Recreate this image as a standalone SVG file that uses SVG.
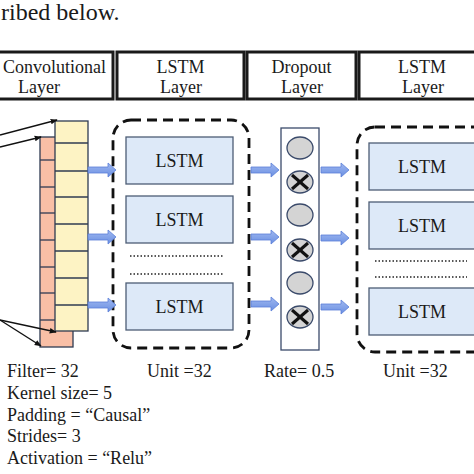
<svg xmlns="http://www.w3.org/2000/svg" width="474" height="474" viewBox="0 0 474 474">
<style>
text{font-family:"Liberation Serif","Times New Roman",serif;fill:#1a1a1a}
.hdr{fill:#fff;stroke:#1a1a1a;stroke-width:3}
.t17{font-size:18px}
.mid{text-anchor:middle}
.cell{stroke:#2f3b52;stroke-width:1.3}
.lstm{fill:#dde9f8;stroke:#4d5d75;stroke-width:1.3}
.dash{fill:none;stroke:#111;stroke-width:2.8;stroke-dasharray:10 6}
.dots{stroke:#222;stroke-width:1.3;stroke-dasharray:1.5 2}
.circ{fill:#d4d4d4;stroke:#3a4a6a;stroke-width:1.3}
.x{stroke:#111;stroke-width:3}
.blk{fill:url(#bg);stroke:#5b7fd8;stroke-width:0.8}
.thin{stroke:#111;stroke-width:1.4;fill:none;marker-end:url(#ah)}
</style>
<defs>
<linearGradient id="bg" x1="0" y1="0" x2="0" y2="1">
<stop offset="0" stop-color="#9fb8f0"/><stop offset="1" stop-color="#6a8fe2"/>
</linearGradient>
<marker id="ah" viewBox="0 0 10 10" refX="9" refY="5" markerWidth="7" markerHeight="7" orient="auto" markerUnits="userSpaceOnUse">
<path d="M0,1 L10,5 L0,9 Z" fill="#111"/>
</marker>
<path id="ba" d="M0,-3 H20 V-7 L28,0 L20,7 V3 H0 Z"/>
</defs>
<rect width="474" height="474" fill="#fff"/>
<text x="1" y="20" style="font-size:24px">ribed below.</text>

<g id="headers">
<g id="h-conv"><rect class="hdr" x="-2" y="52" width="115" height="47"/>
<text class="t17" x="3" y="73">Convolutional</text><text class="t17" x="18" y="93">Layer</text></g>
<g id="h-lstm1"><rect class="hdr" x="117" y="52" width="127" height="47"/>
<text class="t17 mid" x="180.5" y="73">LSTM</text><text class="t17 mid" x="181" y="93">Layer</text></g>
<g id="h-drop"><rect class="hdr" x="247" y="52" width="109" height="47"/>
<text class="t17 mid" x="301.5" y="73">Dropout</text><text class="t17 mid" x="302" y="93">Layer</text></g>
<g id="h-lstm2"><rect class="hdr" x="359" y="52" width="120" height="47"/>
<text class="t17 mid" x="422" y="73">LSTM</text><text class="t17 mid" x="423" y="93">Layer</text></g>
</g>

<g id="conv">
<rect x="40" y="137" width="33" height="210" fill="#f9bfa6" stroke="#2f3b52" stroke-width="1.3"/>
<g class="cell"><line x1="40" y1="160" x2="55" y2="160"/><line x1="40" y1="187" x2="55" y2="187"/><line x1="40" y1="213" x2="55" y2="213"/><line x1="40" y1="240" x2="55" y2="240"/><line x1="40" y1="267" x2="55" y2="267"/><line x1="40" y1="293" x2="55" y2="293"/><line x1="40" y1="320" x2="55" y2="320"/></g>
<rect x="55" y="121" width="33" height="210" fill="#fdf3c4" stroke="#2f3b52" stroke-width="1.3"/>
<g class="cell"><line x1="55" y1="143" x2="88" y2="143"/><line x1="55" y1="171" x2="88" y2="171"/><line x1="55" y1="197" x2="88" y2="197"/><line x1="55" y1="224" x2="88" y2="224"/><line x1="55" y1="251" x2="88" y2="251"/><line x1="55" y1="278" x2="88" y2="278"/><line x1="55" y1="305" x2="88" y2="305"/></g>
</g>

<g id="lstm1">
<rect class="dash" x="113" y="120" width="136" height="228" rx="18"/>
<g id="l1a"><rect class="lstm" x="126" y="137" width="107" height="47"/><text class="t17 mid" x="179.5" y="167">LSTM</text></g>
<g id="l1b"><rect class="lstm" x="126" y="196" width="107" height="47"/><text class="t17 mid" x="179.5" y="226">LSTM</text></g>
<line class="dots" x1="130" y1="256" x2="223" y2="256"/><line class="dots" x1="130" y1="274" x2="223" y2="274"/>
<g id="l1c"><rect class="lstm" x="126" y="283" width="107" height="47"/><text class="t17 mid" x="179.5" y="313">LSTM</text></g>
</g>

<g id="dropout">
<rect x="281" y="128" width="38" height="222" fill="#fff" stroke="#3b4b6b" stroke-width="1.3"/>
<ellipse class="circ" cx="300" cy="148" rx="13" ry="11"/>
<ellipse class="circ" cx="300" cy="182" rx="13" ry="11"/>
<ellipse class="circ" cx="300" cy="215" rx="13" ry="11"/>
<ellipse class="circ" cx="300" cy="250" rx="13" ry="11"/>
<ellipse class="circ" cx="300" cy="283" rx="13" ry="11"/>
<ellipse class="circ" cx="300" cy="317" rx="13" ry="11"/>
<g class="x">
<line x1="292" y1="175" x2="308" y2="189"/><line x1="308" y1="175" x2="292" y2="189"/>
<line x1="292" y1="243" x2="308" y2="257"/><line x1="308" y1="243" x2="292" y2="257"/>
<line x1="292" y1="310" x2="308" y2="324"/><line x1="308" y1="310" x2="292" y2="324"/>
</g>
</g>

<g id="lstm2">
<rect class="dash" x="357" y="127" width="140" height="225" rx="18"/>
<g id="l2a"><rect class="lstm" x="369" y="143" width="115" height="47"/><text class="t17 mid" x="422" y="173">LSTM</text></g>
<g id="l2b"><rect class="lstm" x="369" y="202" width="115" height="47"/><text class="t17 mid" x="422" y="232">LSTM</text></g>
<line class="dots" x1="375" y1="261" x2="467" y2="261"/><line class="dots" x1="375" y1="277" x2="467" y2="277"/>
<g id="l2c"><rect class="lstm" x="369" y="288" width="115" height="47"/><text class="t17 mid" x="422" y="318">LSTM</text></g>
</g>

<g id="connectors">
<line class="thin" x1="0" y1="135" x2="57" y2="120"/>
<line class="thin" x1="0" y1="147" x2="41" y2="137"/>
<line class="thin" x1="0" y1="320" x2="56" y2="332"/>
<line class="thin" x1="0" y1="320" x2="41" y2="346"/>
<use href="#ba" class="blk" x="88" y="170"/>
<use href="#ba" class="blk" x="88" y="237"/>
<use href="#ba" class="blk" x="88" y="305"/>
<use href="#ba" class="blk" x="251" y="170"/>
<use href="#ba" class="blk" x="251" y="237"/>
<use href="#ba" class="blk" x="251" y="304"/>
<use href="#ba" class="blk" x="321" y="170"/>
<use href="#ba" class="blk" x="321" y="238"/>
<use href="#ba" class="blk" x="321" y="307"/>
</g>

<g id="params">
<text class="t17" x="7" y="377">Filter= 32</text>
<text class="t17" x="7" y="399">Kernel size= 5</text>
<text class="t17" x="7" y="421">Padding = “Causal”</text>
<text class="t17" x="7" y="442">Strides= 3</text>
<text class="t17" x="7" y="464">Activation = “Relu”</text>
<text class="t17" x="147" y="377">Unit =32</text>
<text class="t17" x="264" y="377">Rate= 0.5</text>
<text class="t17" x="383" y="377">Unit =32</text>
</g>
</svg>
